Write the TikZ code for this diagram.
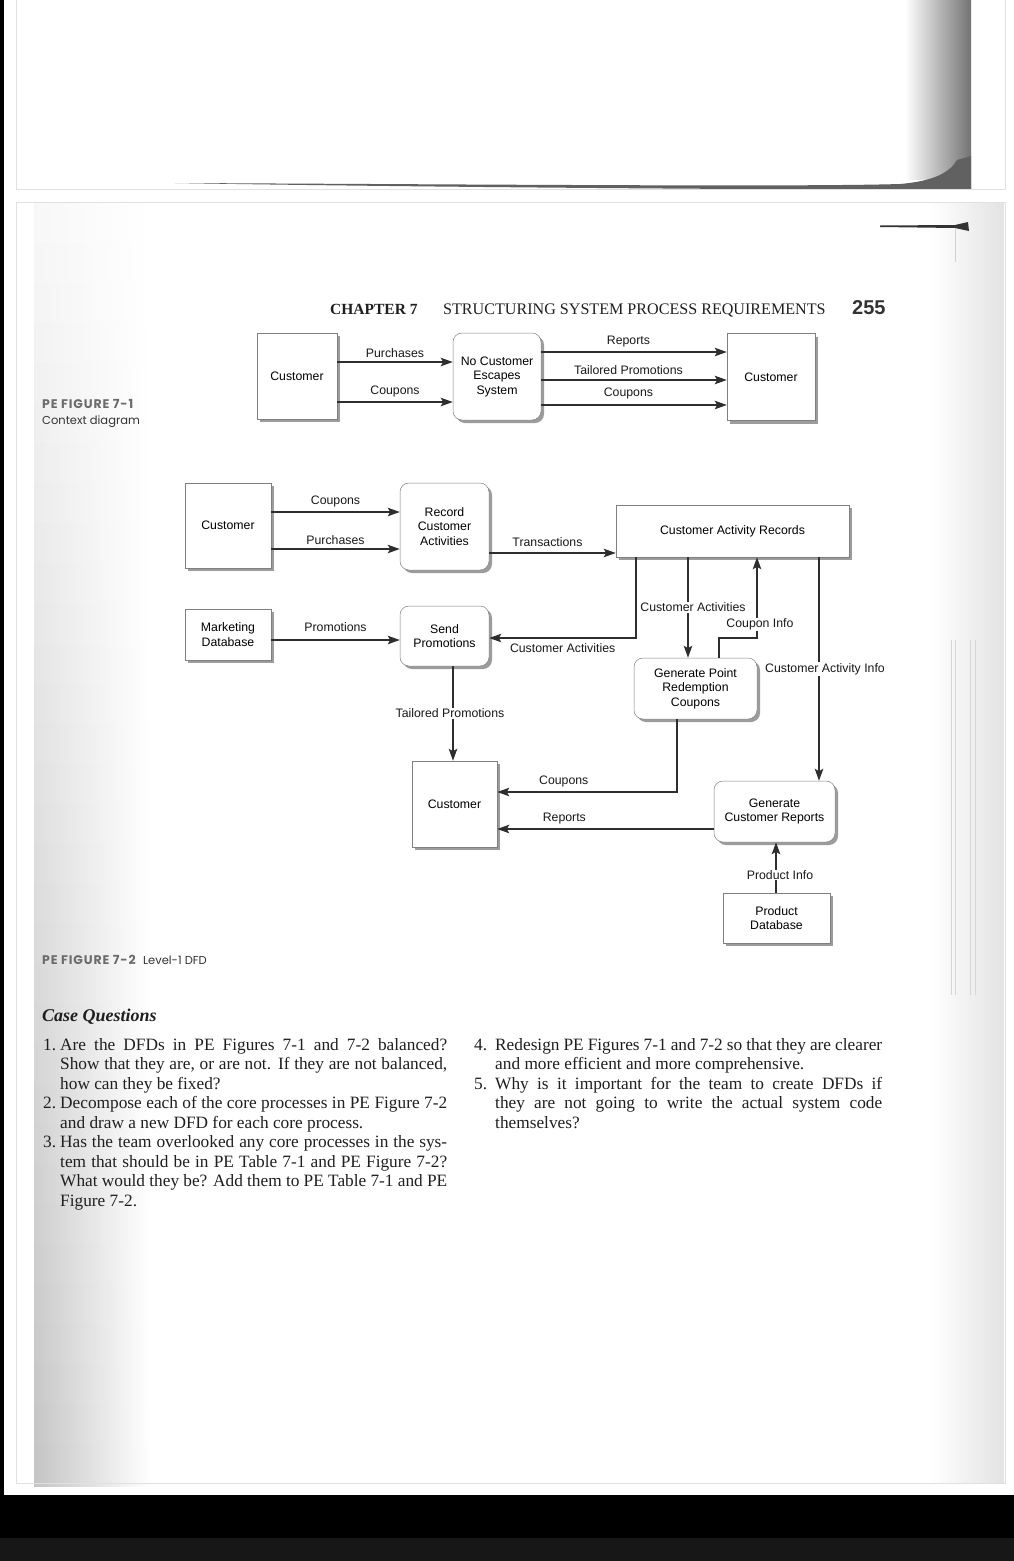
\documentclass[tikz,border=0pt]{standalone}
\usepackage{fontspec}
\setmainfont{Liberation Serif}
\setsansfont{Liberation Sans}
\newfontfamily\figfont{Poppins}
\newfontfamily\figcaps[LetterSpace=7]{Poppins}
\usetikzlibrary{arrows.meta,shadows}
\newcommand{\jl}[1]{\makebox[387pt][s]{#1}}
\begin{document}
\begin{tikzpicture}[x=1pt,y=-1pt,
  ent/.style={draw=black!50, line width=0.5pt, fill=white, inner sep=0pt, align=center,
    font=\sffamily\fontsize{12.3}{14.5}\selectfont,
    drop shadow={shadow xshift=3pt, shadow yshift=-3pt, fill=black!55, opacity=0.7}},
  proc/.style={ent, rounded corners=9pt},
  flow/.style={draw=black!82, line width=1.5pt, -{Stealth[length=12pt,width=8.5pt,inset=2.5pt]}},
  lbl/.style={font=\sffamily\fontsize{12.3}{14}\selectfont, inner sep=0.8pt, text=black!90},
  txt/.style={inner sep=0pt, anchor=base west, text=black!88},
  q/.style={txt, font=\fontsize{17.3}{19.5}\selectfont},
  fig/.style={txt, font=\figcaps\bfseries\fontsize{12.5}{13}\selectfont, text=black!58},
  figsub/.style={txt, font=\figfont\fontsize{11.5}{13}\selectfont, text=black!80}
]
\useasboundingbox (0,0) rectangle (1014,1561);
% ---------- page background ----------
\fill[black] (0,0) rectangle (1014,1561);
\fill[white] (4,0) rectangle (1014,1495);
\fill[black!91] (0,1538) rectangle (1014,1561);
% top panel shading and curl
\shade[left color=white, right color=black!55] (905,0) -- (971,0) -- (971,189) -- (958,189)
  .. controls (945,180) and (930,178) .. (905,181) -- cycle;
\fill[black!62] (175,183) .. controls (500,184.5) and (800,187) .. (900,184)
  .. controls (935,181) and (950,172) .. (957,160) -- (971,156) -- (971,189) -- (940,189.5)
  .. controls (800,190) and (400,187) .. (175,183) -- cycle;
\draw[black!12, line width=0.8pt] (16,-2) -- (16,189) -- (1005,189) -- (1005,-2);
% second panel: scanner shading at the left and right edges
\foreach \i in {0,...,31} {
  \pgfmathsetmacro\kk{3+\i*0.65}
  \shade[left color=black!\kk, right color=white] (34,{202+\i*40.1}) rectangle (150,{202+\i*40.1+41});
}
\shade[left color=white, right color=black!11] (930,202) rectangle (1004,1483);
\foreach \xx in {951,955,970,975} \draw[black!16, line width=0.5pt] (\xx,640) -- (\xx,995);
\draw[black!12, line width=0.8pt] (16,202) rectangle (1005,1483);
\fill[black!80] (880,225.5) -- (955,225) -- (968,222) -- (969,231) -- (955,228) -- (880,227) -- cycle;
\draw[black!18, line width=0.5pt] (955,228) -- (955,262);

% ---------- header ----------
\node[txt, font=\bfseries\fontsize{15.5}{18}\selectfont] (h1) at (330,314) {CHAPTER 7};
\node[txt, font=\fontsize{16.1}{18}\selectfont] (h2) at (443,314) {STRUCTURING SYSTEM PROCESS REQUIREMENTS};
\node[txt, font=\sffamily\bfseries\fontsize{20}{22}\selectfont, text=black!80] (h3) at (852,314) {255};

% ---------- PE Figure 7-1 ----------
\node[fig] (f1) at (42,408) {PE FIGURE 7-1};
\node[figsub] (f1s) at (42,424) {Context diagram};

\node[ent, minimum width=80pt, minimum height=86pt] (c1) at (297,376) {Customer};
\node[proc, minimum width=88pt, minimum height=87pt] (p0) at (497,376.5) {No Customer\\Escapes\\System};
\node[ent, minimum width=88pt, minimum height=87pt] (c2) at (771,377) {Customer};

\draw[flow] (c1.east |- 0,362) -- (p0.west |- 0,362) node[lbl, midway, above=3pt] {Purchases};
\draw[flow] (c1.east |- 0,402) -- (p0.west |- 0,402) node[lbl, midway, above=3pt] {Coupons};
\draw[flow] (p0.east |- 0,352) -- (c2.west |- 0,352) node[lbl, pos=0.47, above=3pt] {Reports};
\draw[flow] (p0.east |- 0,380) -- (c2.west |- 0,380) node[lbl, pos=0.47, above=4pt] {Tailored Promotions};
\draw[flow] (p0.east |- 0,405) -- (c2.west |- 0,405) node[lbl, pos=0.47, above=4pt] {Coupons};

% ---------- PE Figure 7-2 ----------
\node[ent, minimum width=86pt, minimum height=85pt] (e1) at (228,525.5) {Customer};
\node[proc, minimum width=89pt, minimum height=87pt] (r1) at (444.5,526.5) {Record\\Customer\\Activities};
\node[ent, minimum width=233pt, minimum height=52pt] (ds) at (732.5,531) {Customer Activity Records};
\node[ent, minimum width=86pt, minimum height=51pt] (md) at (228,634.5) {Marketing\\Database};
\node[proc, minimum width=89pt, minimum height=60pt] (sp) at (444.5,636) {Send\\Promotions};
\node[proc, minimum width=123pt, minimum height=61pt] (gp) at (695.5,688.5) {Generate Point\\Redemption\\Coupons};
\node[ent, minimum width=85pt, minimum height=86pt] (e2) at (454.5,804) {Customer};
\node[proc, minimum width=121pt, minimum height=61pt] (gc) at (774.5,811.5) {Generate\\Customer Reports};
\node[ent, minimum width=107pt, minimum height=50pt] (pd) at (776.5,918) {Product\\Database};

\draw[flow] (e1.east |- 0,512) -- (r1.west |- 0,512) node[lbl, midway, above=3pt] {Coupons};
\draw[flow] (e1.east |- 0,549) -- (r1.west |- 0,549) node[lbl, midway, above=3pt] {Purchases};
\draw[flow] (r1.east |- 0,553) -- (ds.west |- 0,553) node[lbl, pos=0.46, above=5pt] {Transactions};
\draw[flow] (md.east |- 0,640) -- (sp.west |- 0,640) node[lbl, midway, above=7pt] {Promotions};
\draw[flow] (ds.south -| 636,0) -- (636,638) -- node[lbl, below=4pt] {Customer Activities} (sp.east |- 0,638);
\draw[flow] (ds.south -| 688,0) -- (gp.north -| 688,0) node[lbl, fill=white, midway, xshift=5pt] {Customer Activities};
\draw[flow] (gp.north -| 719,0) -- (719,638) -- (757,638) -- (ds.south -| 757,0)
  node[lbl, fill=white, pos=0.17, xshift=3pt] {Coupon Info};
\draw[flow] (ds.south -| 819,0) -- (gc.north -| 819,0) node[lbl, fill=white, midway, xshift=6pt] {Customer Activity Info};
\draw[flow] (sp.south -| 453,0) -- (e2.north -| 453,0) node[lbl, fill=white, midway, xshift=-3pt] {Tailored Promotions};
\draw[flow] (gp.south -| 677,0) -- (677,792) -- node[lbl, pos=0.63, above=3pt] {Coupons} (e2.east |- 0,792);
\draw[flow] (gc.west |- 0,829) -- (e2.east |- 0,829) node[lbl, pos=0.69, above=3pt] {Reports};
\draw[flow] (pd.north -| 776,0) -- (gc.south -| 776,0) node[lbl, fill=white, pos=0.35, xshift=4pt] {Product Info};

\node[fig] (f2) at (42,964) {PE FIGURE 7-2};
\node[figsub] (f2s) at (143,964) {Level-1 DFD};

% ---------- Case questions ----------
\node[txt, font=\bfseries\itshape\fontsize{18}{20}\selectfont] (cq) at (42,1021) {Case Questions};

\node[q] (n1) at (43,1050) {1.};
\node[q] (q1a) at (60,1050) {\jl{Are the DFDs in PE Figures 7-1 and 7-2 balanced?}};
\node[q] (q1b) at (60,1069.5) {\jl{Show that they are, or are not. If they are not balanced,}};
\node[q] (q1c) at (60,1089) {how can they be fixed?};
\node[q] (n2) at (43,1108.5) {2.};
\node[q] (q2a) at (60,1108.5) {\jl{Decompose each of the core processes in PE Figure 7-2}};
\node[q] (q2b) at (60,1128) {and draw a new DFD for each core process.};
\node[q] (n3) at (43,1147.5) {3.};
\node[q] (q3a) at (60,1147.5) {\jl{Has the team overlooked any core processes in the sys-}};
\node[q] (q3b) at (60,1167) {\jl{tem that should be in PE Table 7-1 and PE Figure 7-2?}};
\node[q] (q3c) at (60,1186.5) {\jl{What would they be? Add them to PE Table 7-1 and PE}};
\node[q] (q3d) at (60,1206) {Figure 7-2.};

\node[q] (n4) at (474,1050) {4.};
\node[q] (q4a) at (495,1050) {\jl{Redesign PE Figures 7-1 and 7-2 so that they are clearer}};
\node[q] (q4b) at (495,1069.5) {and more efficient and more comprehensive.};
\node[q] (n5) at (474,1089) {5.};
\node[q] (q5a) at (495,1089) {\jl{Why is it important for the team to create DFDs if}};
\node[q] (q5b) at (495,1108.5) {\jl{they are not going to write the actual system code}};
\node[q] (q5c) at (495,1128) {themselves?};
\end{tikzpicture}
\end{document}
